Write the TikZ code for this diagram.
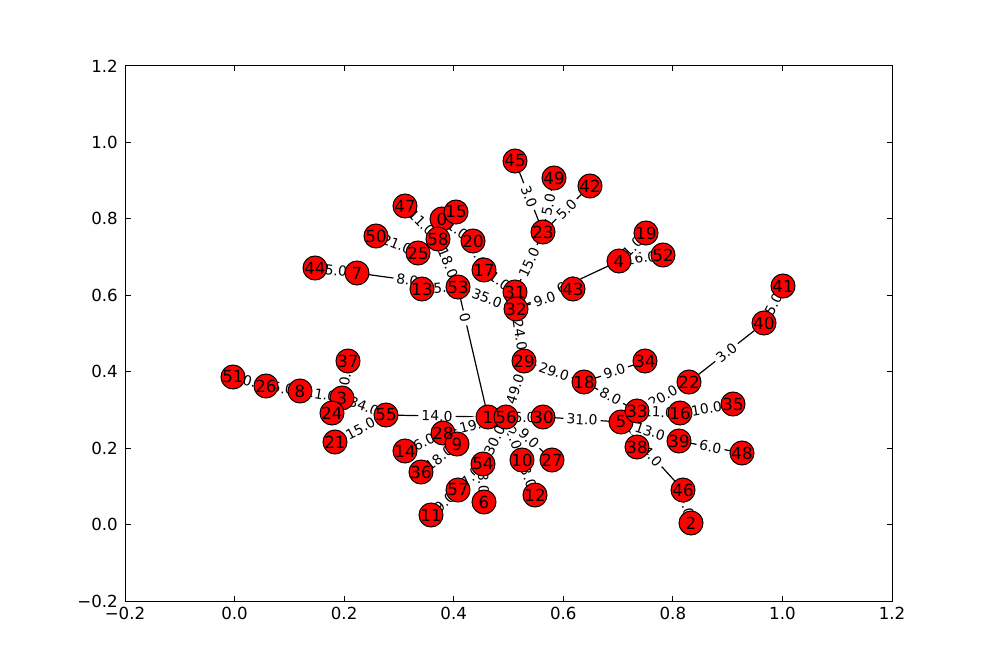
\documentclass[tikz,border=0pt]{standalone}
\usepackage{fontspec}
\setmainfont{DejaVu Sans}
\pgfdeclarelayer{edgelayer}
\pgfdeclarelayer{labellayer}
\pgfdeclarelayer{toplayer}
\pgfsetlayers{edgelayer,labellayer,main,toplayer}
\newcommand{\mknode}[3]{%
  \node[nd] (n#1) at (#2,#3) {};
  \begin{pgfonlayer}{toplayer}\node[nlab] at (#2,#3) {#1};\end{pgfonlayer}}
\newcommand{\mkedge}[3]{%
  \begin{pgfonlayer}{edgelayer}\draw[edgeline] (n#1.center) -- (n#2.center);\end{pgfonlayer}
  \begin{pgfonlayer}{labellayer}\path (n#1.center) -- node[elabel] {#3} (n#2.center);\end{pgfonlayer}}
\begin{document}
\begin{tikzpicture}[x=1bp,y=-1bp,
  nd/.style={circle, draw=black, fill=red, line width=1bp, minimum size=24bp, inner sep=0pt},
  nlab/.style={font=\fontsize{16.7}{18}\selectfont, inner sep=0pt},
  edgeline/.style={draw=black, line width=1.2bp},
  elabel/.style={font=\fontsize{13.9}{15}\selectfont, fill=white, rounded corners=3bp, inner sep=3.2bp, sloped, midway},
  ticklab/.style={font=\fontsize{16.7}{18}\selectfont, inner sep=0pt},
  axisline/.style={draw=black, line width=1bp}]
\useasboundingbox (0,0) rectangle (991,668);
% axes frame
\draw[axisline] (125,66) rectangle (892,601);
\foreach \i/\t in {0/{−0.2},1/{0.0},2/{0.2},3/{0.4},4/{0.6},5/{0.8},6/{1.0},7/{1.2}}{
  \pgfmathsetmacro{\px}{125+\i*109.5714}
  \pgfmathsetmacro{\py}{601-\i*76.4286}
  \draw[axisline] (\px,601) -- (\px,595.5);
  \draw[axisline] (\px,66) -- (\px,71.5);
  \draw[axisline] (125,\py) -- (130.5,\py);
  \draw[axisline] (892,\py) -- (886.5,\py);
  \node[ticklab, anchor=north] at (\px,607) {\t};
  \node[ticklab, anchor=east] at (118,\py) {\t};
}
% nodes
\mknode{0}{442}{219}
\mknode{1}{488}{417}
\mknode{2}{691}{523}
\mknode{3}{342}{398}
\mknode{4}{619}{261}
\mknode{5}{621}{422}
\mknode{6}{484}{502}
\mknode{7}{357}{273}
\mknode{8}{300}{391}
\mknode{10}{522}{460}
\mknode{11}{431}{515}
\mknode{12}{535}{495}
\mknode{13}{422}{289}
\mknode{14}{405}{451}
\mknode{15}{456}{212}
\mknode{16}{680}{413}
\mknode{17}{484}{270}
\mknode{18}{584}{382}
\mknode{19}{646}{233}
\mknode{20}{473}{241}
\mknode{21}{335}{442}
\mknode{22}{689}{382}
\mknode{23}{543}{232}
\mknode{24}{332}{413}
\mknode{25}{418}{253}
\mknode{26}{266}{386}
\mknode{27}{552}{460}
\mknode{28}{443}{433}
\mknode{9}{457}{444}
\mknode{29}{524}{361}
\mknode{30}{543}{417}
\mknode{31}{515}{292}
\mknode{32}{516}{309}
\mknode{33}{637}{411}
\mknode{34}{645}{361}
\mknode{35}{733}{404}
\mknode{36}{421}{472}
\mknode{37}{348}{361}
\mknode{38}{637}{447}
\mknode{39}{679}{441}
\mknode{40}{764}{323}
\mknode{41}{783}{286}
\mknode{42}{590}{186}
\mknode{43}{573}{289}
\mknode{44}{315}{268}
\mknode{45}{515}{161}
\mknode{46}{683}{490}
\mknode{47}{405}{206}
\mknode{48}{742}{453}
\mknode{49}{554}{178}
\mknode{50}{376}{236}
\mknode{51}{233}{377}
\mknode{52}{663}{255}
\mknode{53}{458}{287}
\mknode{54}{483}{464}
\mknode{55}{386}{415}
\mknode{56}{506}{417}
\mknode{57}{458}{490}
\mknode{58}{438}{239}
% edges
\mkedge{0}{1}{0}
\mkedge{0}{20}{1.0}
\mkedge{20}{17}{3.0}
\mkedge{45}{23}{3.0}
\mkedge{49}{23}{5.0}
\mkedge{42}{23}{5.0}
\mkedge{23}{31}{15.0}
\mkedge{4}{32}{6.0}
\mkedge{32}{43}{9.0}
\mkedge{4}{52}{16.0}
\mkedge{4}{19}{1.0}
\mkedge{40}{41}{5.0}
\mkedge{22}{40}{3.0}
\mkedge{22}{33}{20.0}
\mkedge{33}{16}{11.0}
\mkedge{16}{35}{10.0}
\mkedge{39}{48}{6.0}
\mkedge{5}{39}{13.0}
\mkedge{5}{46}{4.0}
\mkedge{46}{2}{4.0}
\mkedge{18}{34}{9.0}
\mkedge{18}{33}{8.0}
\mkedge{30}{5}{31.0}
\mkedge{55}{1}{14.0}
\mkedge{14}{28}{6.0}
\mkedge{36}{9}{18.0}
\mkedge{56}{10}{2.0}
\mkedge{54}{56}{30.0}
\mkedge{29}{56}{49.0}
\mkedge{56}{30}{6.0}
\mkedge{56}{27}{9.0}
\mkedge{10}{12}{8.0}
\mkedge{54}{57}{7.0}
\mkedge{54}{6}{8.0}
\mkedge{57}{11}{9.0}
\mkedge{51}{26}{10.0}
\mkedge{26}{8}{5.0}
\mkedge{8}{3}{11.0}
\mkedge{37}{3}{10.0}
\mkedge{3}{55}{34.0}
\mkedge{21}{55}{15.0}
\mkedge{47}{58}{11.0}
\mkedge{50}{25}{21.0}
\mkedge{58}{53}{18.0}
\mkedge{44}{7}{5.0}
\mkedge{7}{53}{8.0}
\mkedge{13}{53}{15.0}
\mkedge{53}{32}{35.0}
\mkedge{17}{31}{1.0}
\mkedge{32}{29}{24.0}
\mkedge{29}{18}{29.0}
\mkedge{28}{56}{19.0}
\end{tikzpicture}
\end{document}
